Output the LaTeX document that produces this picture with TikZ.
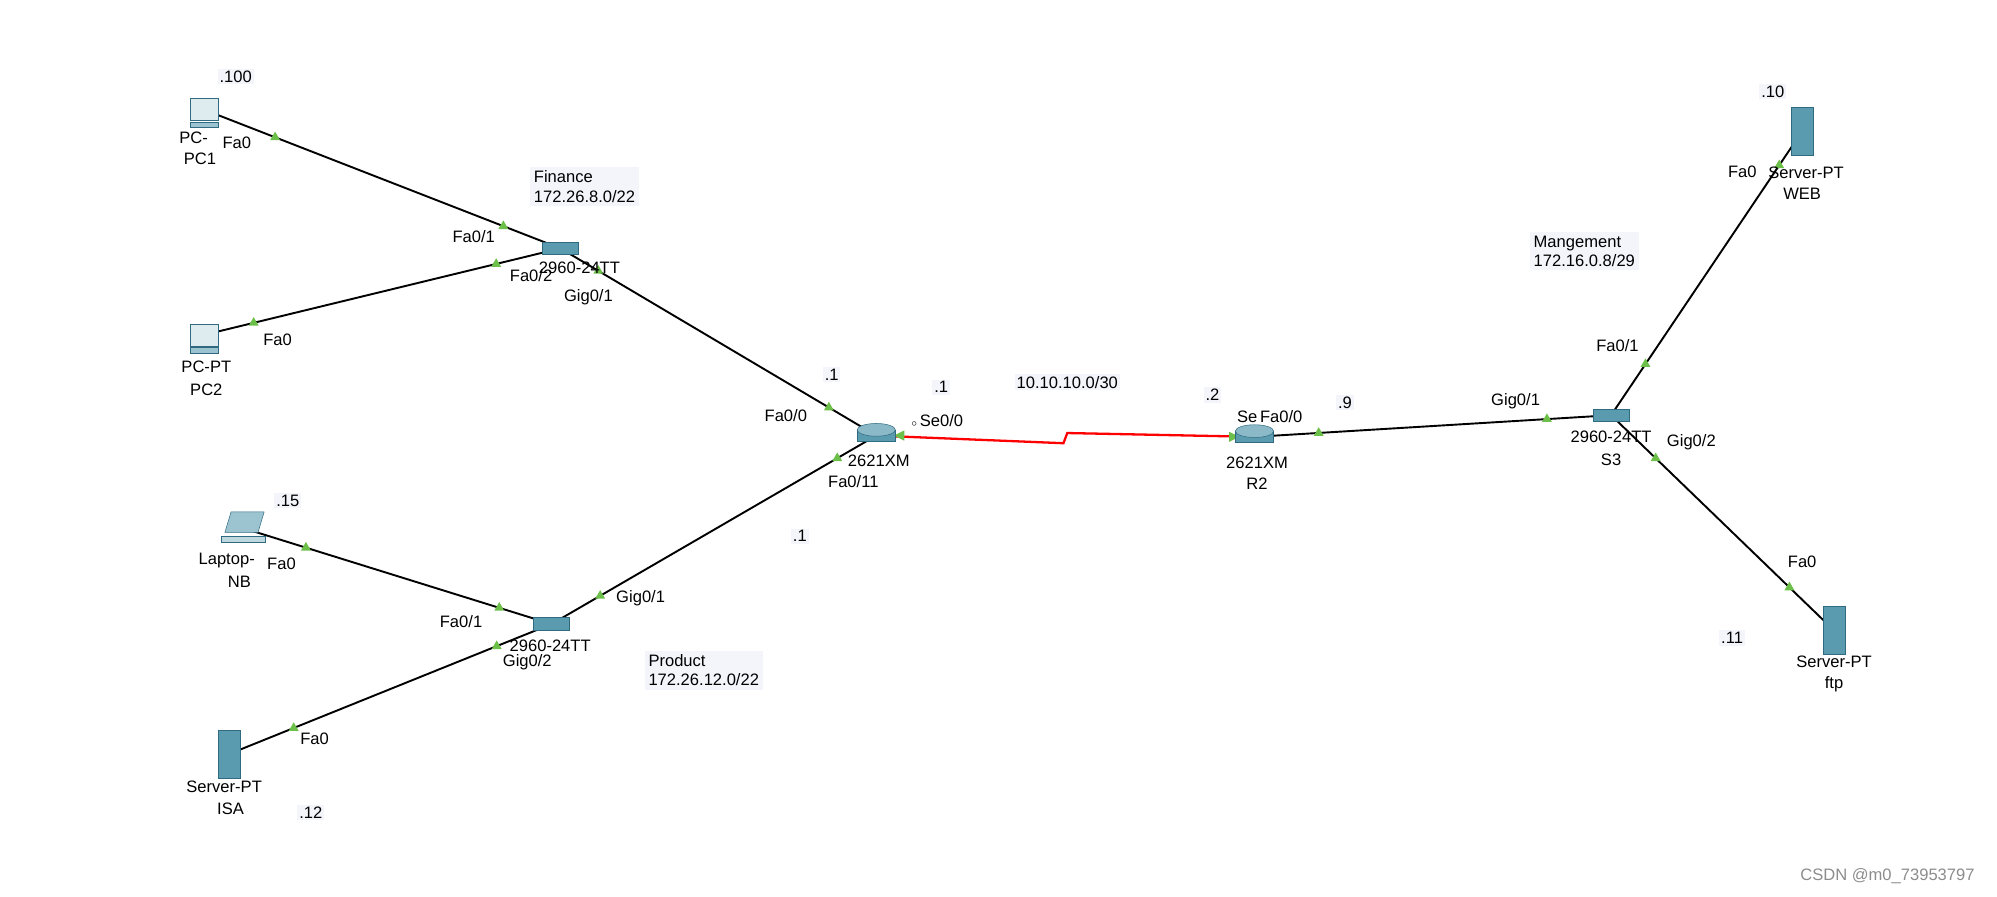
\documentclass[tikz,border=0pt]{standalone}
\usepackage{fontspec}
\setmainfont{Liberation Sans}
\usetikzlibrary{shapes.geometric}
\definecolor{lbl}{HTML}{F3F5FB}
\definecolor{dev}{HTML}{5A9BB0}
\definecolor{devd}{HTML}{2F6A80}
\definecolor{portg}{HTML}{6CC04A}
\tikzset{
 lk/.style={line width=1.5pt,black},
 tx/.style={font=\fontsize{13}{15}\selectfont,inner sep=1.5pt},
 bx/.style={tx,fill=lbl,align=left,inner sep=3pt},
 pt/.style={regular polygon,regular polygon sides=3,fill=portg,inner sep=0pt,minimum size=9pt},
 sw/.style={draw=devd,fill=dev,minimum width=28pt,minimum height=10pt,inner sep=0pt},
 sv/.style={draw=devd,fill=dev,minimum width=17pt,minimum height=38pt,inner sep=0pt},
 rt/.style={draw=devd,fill=dev,minimum width=30pt,minimum height=9pt,inner sep=0pt},
 pc/.style={draw=devd,fill=white!80!dev,minimum width=22pt,minimum height=17pt,inner sep=0pt},
}
\begin{document}
\begin{tikzpicture}[x=1pt,y=-1pt]
\useasboundingbox (0,0) rectangle (1568,704);
\coordinate (pc1) at (160,86);
\coordinate (pc2) at (160,263);
\coordinate (s1) at (440,195);
\coordinate (r1) at (688,342);
\coordinate (r2) at (985,343);
\coordinate (s3) at (1265,326);
\coordinate (web) at (1415,103);
\coordinate (ftp) at (1440,495);
\coordinate (nb) at (192,415);
\coordinate (s2) at (433,490);
\coordinate (isa) at (180,592);
\coordinate (zz1) at (835,348);
\coordinate (zz2) at (838,340);
% links
\draw[lk] (pc1) -- node[pt,pos=0.2]{} node[pt,pos=0.84]{} (s1);
\draw[lk] (pc2) -- node[pt,pos=0.14]{} node[pt,pos=0.82]{} (s1);
\draw[lk] (s1) -- node[pt,pos=0.12]{} node[pt,pos=0.85]{} (r1);
\draw[lk] (r1) -- node[pt,pos=0.12]{} node[pt,pos=0.85]{} (s2);
\draw[lk] (nb) -- node[pt,pos=0.2]{} node[pt,pos=0.83]{} (s2);
\draw[lk] (isa) -- node[pt,pos=0.2]{} node[pt,pos=0.83]{} (s2);
\draw[line width=1.8pt,red] (r1) -- (zz1) -- (zz2) -- (r2);
\fill[portg] (r1)++(22,-4) -- ++(-8,4) -- ++(8,4) -- cycle;
\fill[portg] (r2)++(-20,-4) -- ++(8,4) -- ++(-8,4) -- cycle;
\draw[lk] (r2) -- node[pt,pos=0.18]{} node[pt,pos=0.82]{} (s3);
\draw[lk] (s3) -- node[pt,pos=0.18]{} node[pt,pos=0.88]{} (web);
\draw[lk] (s3) -- node[pt,pos=0.2]{} node[pt,pos=0.8]{} (ftp);
% devices
\node[pc] (ipc1) at (pc1) {}; \draw[devd,fill=dev!60] (149,96) rectangle (171,100);
\node[pc] (ipc2) at (pc2) {}; \draw[devd,fill=dev!60] (149,273) rectangle (171,277);
\node[sw] (is1) at (s1) {};
\node[sw] (is2) at (s2) {};
\node[sw] (is3) at (s3) {};
\node[rt] (ir1) at (r1) {};
\fill[dev!70,draw=devd] (r1)++(0,-4.5) ellipse (15pt and 5pt);
\node[rt] (ir2) at (r2) {};
\fill[dev!70,draw=devd] (r2)++(0,-4.5) ellipse (15pt and 5pt);
\node[sv] (iweb) at (web) {};
\node[sv] (iftp) at (ftp) {};
\node[sv] (iisa) at (isa) {};
\node[draw=devd,fill=dev!60,minimum width=26pt,minimum height=16pt,inner sep=0pt,xslant=0.3] (inb) at (192,410) {};
\draw[devd,fill=dev!40] (174,421) rectangle (208,426);
% labels
\node[tx,fill=lbl] (l1) at (185,60) {.100};
\node[tx] at (152,108) {PC-};
\node[tx] at (157,125) {PC1};
\node[tx] at (186,112) {Fa0};
\node[tx] at (218,267) {Fa0};
\node[tx] at (162,288) {PC-PT};
\node[tx] at (162,306) {PC2};
\node[tx] at (372,186) {Fa0/1};
\node[tx] at (417,216) {Fa0/2};
\node[tx] at (455,210) {2960-24TT};
\node[tx] at (462,233) {Gig0/1};
\node[bx,anchor=north west] at (416,131) {Finance\\172.26.8.0/22};
\node[tx,fill=lbl] at (653,294) {.1};
\node[tx] at (617,326) {Fa0/0};
\node[tx,fill=lbl] at (739,304) {.1};
\node[tx] at (736,330) {\fontsize{8}{9}\selectfont$\circ$\ \fontsize{13}{15}\selectfont Se0/0};
\node[tx] at (690,362) {2621XM};
\node[tx] at (670,378) {Fa0/11};
\node[tx,fill=lbl] at (628,421) {.1};
\node[tx,fill=lbl] at (838,300) {10.10.10.0/30};
\node[tx,fill=lbl] at (952,310) {.2};
\node[tx] at (997,327) {Se\,Fa0/0};
\node[tx,fill=lbl] at (1056,316) {.9};
\node[tx] at (987,363) {2621XM};
\node[tx] at (987,380) {R2};
\node[tx] at (1190,315) {Gig0/1};
\node[tx] at (1265,343) {2960-24TT};
\node[tx] at (1265,361) {S3};
\node[tx] at (1328,347) {Gig0/2};
\node[tx] at (1270,271) {Fa0/1};
\node[bx,anchor=north west] at (1201,182) {Mangement\\172.16.0.8/29};
\node[tx,fill=lbl] at (1392,72) {.10};
\node[tx] at (1368,135) {Fa0};
\node[tx] at (1418,136) {Server-PT};
\node[tx] at (1415,152) {WEB};
\node[tx] at (1415,441) {Fa0};
\node[tx,fill=lbl] at (1360,501) {.11};
\node[tx] at (1440,520) {Server-PT};
\node[tx] at (1440,537) {ftp};
\node[tx,fill=lbl] at (226,393) {.15};
\node[tx] at (178,440) {Laptop-};
\node[tx] at (188,457) {NB};
\node[tx] at (221,443) {Fa0};
\node[tx] at (362,488) {Fa0/1};
\node[tx] at (432,507) {2960-24TT};
\node[tx] at (414,520) {Gig0/2};
\node[tx] at (503,470) {Gig0/1};
\node[bx,anchor=north west] at (506,511) {Product\\172.26.12.0/22};
\node[tx] at (176,618) {Server-PT};
\node[tx] at (181,635) {ISA};
\node[tx] at (247,580) {Fa0};
\node[tx,fill=lbl] at (244,638) {.12};
\node[tx,text=black!45] at (1482,688) {CSDN @m0\_73953797};
\end{tikzpicture}
\end{document}
